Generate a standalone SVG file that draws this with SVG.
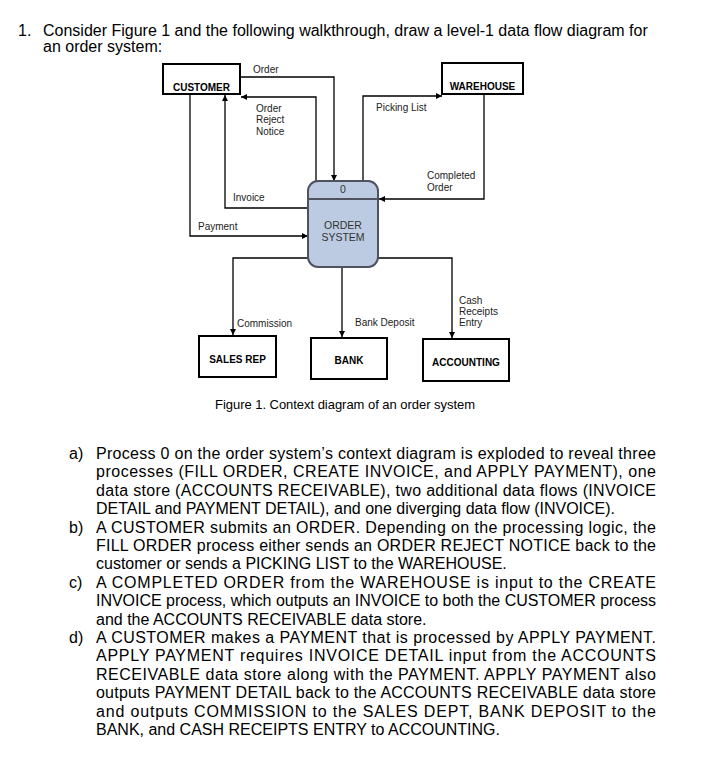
<svg xmlns="http://www.w3.org/2000/svg" width="720" height="765" viewBox="0 0 720 765">
<style>
  .t { font-family: "Liberation Sans", Arial, sans-serif; fill: #000; }
  .p { font-size: 16px; }
  .lbl { font-size: 10px; fill: #222; }
  .box { fill: #fff; stroke: #000; stroke-width: 2; }
  .bt { font-size: 10px; font-weight: bold; text-anchor: middle; }
  .ln { fill: none; stroke: #000; stroke-width: 1.3; }
  .proc { fill: #bccbe2; stroke: #4f5360; stroke-width: 2; }
  .pt { font-size: 10.5px; fill: #333; text-anchor: middle; }
</style>
<defs>
  <marker id="ah" viewBox="0 0 10 10" refX="10" refY="5" markerWidth="6" markerHeight="6" markerUnits="userSpaceOnUse" orient="auto">
    <path d="M0,0 L10,5 L0,10 z" fill="#000"/>
  </marker>
</defs>
<rect width="720" height="765" fill="#fff"/>

<g id="question">
  <text class="t p" x="18" y="36">1.</text>
  <text class="t p" x="43" y="36">Consider Figure 1 and the following walkthrough, draw a level-1 data flow diagram for</text>
  <text class="t p" x="43" y="52">an order system:</text>
</g>

<g id="connectors">
  <polyline class="ln" points="240,77 334,77 334,181" marker-end="url(#ah)"/>
  <polyline class="ln" points="316,181 316,97 241,97" marker-end="url(#ah)"/>
  <polyline class="ln" points="308,208 225,208 225,95" marker-end="url(#ah)"/>
  <polyline class="ln" points="190,94 190,236 308,236" marker-end="url(#ah)"/>
  <polyline class="ln" points="363,181 363,96 442,96" marker-end="url(#ah)"/>
  <polyline class="ln" points="484,94 484,199 379,199" marker-end="url(#ah)"/>
  <polyline class="ln" points="308,258 233,258 233,335" marker-end="url(#ah)"/>
  <polyline class="ln" points="342,267 342,337" marker-end="url(#ah)"/>
  <polyline class="ln" points="378,258 452,258 452,338" marker-end="url(#ah)"/>
  <text class="t lbl" x="253" y="72.5">Order</text>
  <text class="t lbl" x="256" y="111.5">Order</text>
  <text class="t lbl" x="256" y="123">Reject</text>
  <text class="t lbl" x="256" y="134.5">Notice</text>
  <text class="t lbl" x="233" y="200.5">Invoice</text>
  <text class="t lbl" x="198" y="230">Payment</text>
  <text class="t lbl" x="376" y="110.5">Picking List</text>
  <text class="t lbl" x="427" y="178.5">Completed</text>
  <text class="t lbl" x="427" y="190.5">Order</text>
  <text class="t lbl" x="237" y="326.5">Commission</text>
  <text class="t lbl" x="355" y="325.5">Bank Deposit</text>
  <text class="t lbl" x="459" y="303.5">Cash</text>
  <text class="t lbl" x="459" y="314.5">Receipts</text>
  <text class="t lbl" x="459" y="325.5">Entry</text>
</g>

<g id="customer">
  <rect class="box" x="163" y="64" width="77" height="30"/>
  <text class="t bt" x="201.5" y="90.5">CUSTOMER</text>
</g>
<g id="warehouse">
  <rect class="box" x="442" y="63" width="81" height="31"/>
  <text class="t bt" x="482.5" y="90">WAREHOUSE</text>
</g>
<g id="order-system">
  <rect class="proc" x="308" y="181" width="70" height="86" rx="10" ry="10"/>
  <line x1="308" y1="199" x2="378" y2="199" stroke="#4f5360" stroke-width="2"/>
  <text class="t pt" x="343" y="193">0</text>
  <text class="t pt" x="343" y="228.5">ORDER</text>
  <text class="t pt" x="343" y="241">SYSTEM</text>
</g>
<g id="sales-rep">
  <rect class="box" x="199" y="336" width="77" height="41"/>
  <text class="t bt" x="237.5" y="362.5">SALES REP</text>
</g>
<g id="bank">
  <rect class="box" x="311" y="338" width="76" height="41"/>
  <text class="t bt" x="349" y="363.5">BANK</text>
</g>
<g id="accounting">
  <rect class="box" x="423" y="339" width="86" height="42"/>
  <text class="t bt" x="466" y="366">ACCOUNTING</text>
</g>

<text class="t" x="215" y="409" font-size="13" textLength="260" lengthAdjust="spacing">Figure 1. Context diagram of an order system</text>

<g id="walkthrough" class="t p">
  <text x="69" y="459">a)</text>
  <text x="96" y="459" textLength="560" lengthAdjust="spacing">Process 0 on the order system’s context diagram is exploded to reveal three</text>
  <text x="96" y="477.4" textLength="560" lengthAdjust="spacing">processes (FILL ORDER, CREATE INVOICE, and APPLY PAYMENT), one</text>
  <text x="96" y="495.8" textLength="560" lengthAdjust="spacing">data store (ACCOUNTS RECEIVABLE), two additional data flows (INVOICE</text>
  <text x="96" y="514.2">DETAIL and PAYMENT DETAIL), and one diverging data flow (INVOICE).</text>
  <text x="69" y="532.6">b)</text>
  <text x="96" y="532.6" textLength="560" lengthAdjust="spacing">A CUSTOMER submits an ORDER. Depending on the processing logic, the</text>
  <text x="96" y="551" textLength="560" lengthAdjust="spacing">FILL ORDER process either sends an ORDER REJECT NOTICE back to the</text>
  <text x="96" y="569.4">customer or sends a PICKING LIST to the WAREHOUSE.</text>
  <text x="69" y="587.8">c)</text>
  <text x="96" y="587.8" textLength="560" lengthAdjust="spacing">A COMPLETED ORDER from the WAREHOUSE is input to the CREATE</text>
  <text x="96" y="606.2" textLength="560" lengthAdjust="spacing">INVOICE process, which outputs an INVOICE to both the CUSTOMER process</text>
  <text x="96" y="624.6">and the ACCOUNTS RECEIVABLE data store.</text>
  <text x="69" y="643">d)</text>
  <text x="96" y="643" textLength="560" lengthAdjust="spacing">A CUSTOMER makes a PAYMENT that is processed by APPLY PAYMENT.</text>
  <text x="96" y="661.4" textLength="560" lengthAdjust="spacing">APPLY PAYMENT requires INVOICE DETAIL input from the ACCOUNTS</text>
  <text x="96" y="679.8" textLength="560" lengthAdjust="spacing">RECEIVABLE data store along with the PAYMENT. APPLY PAYMENT also</text>
  <text x="96" y="698.2" textLength="560" lengthAdjust="spacing">outputs PAYMENT DETAIL back to the ACCOUNTS RECEIVABLE data store</text>
  <text x="96" y="716.6" textLength="560" lengthAdjust="spacing">and outputs COMMISSION to the SALES DEPT, BANK DEPOSIT to the</text>
  <text x="96" y="735">BANK, and CASH RECEIPTS ENTRY to ACCOUNTING.</text>
</g>
</svg>
